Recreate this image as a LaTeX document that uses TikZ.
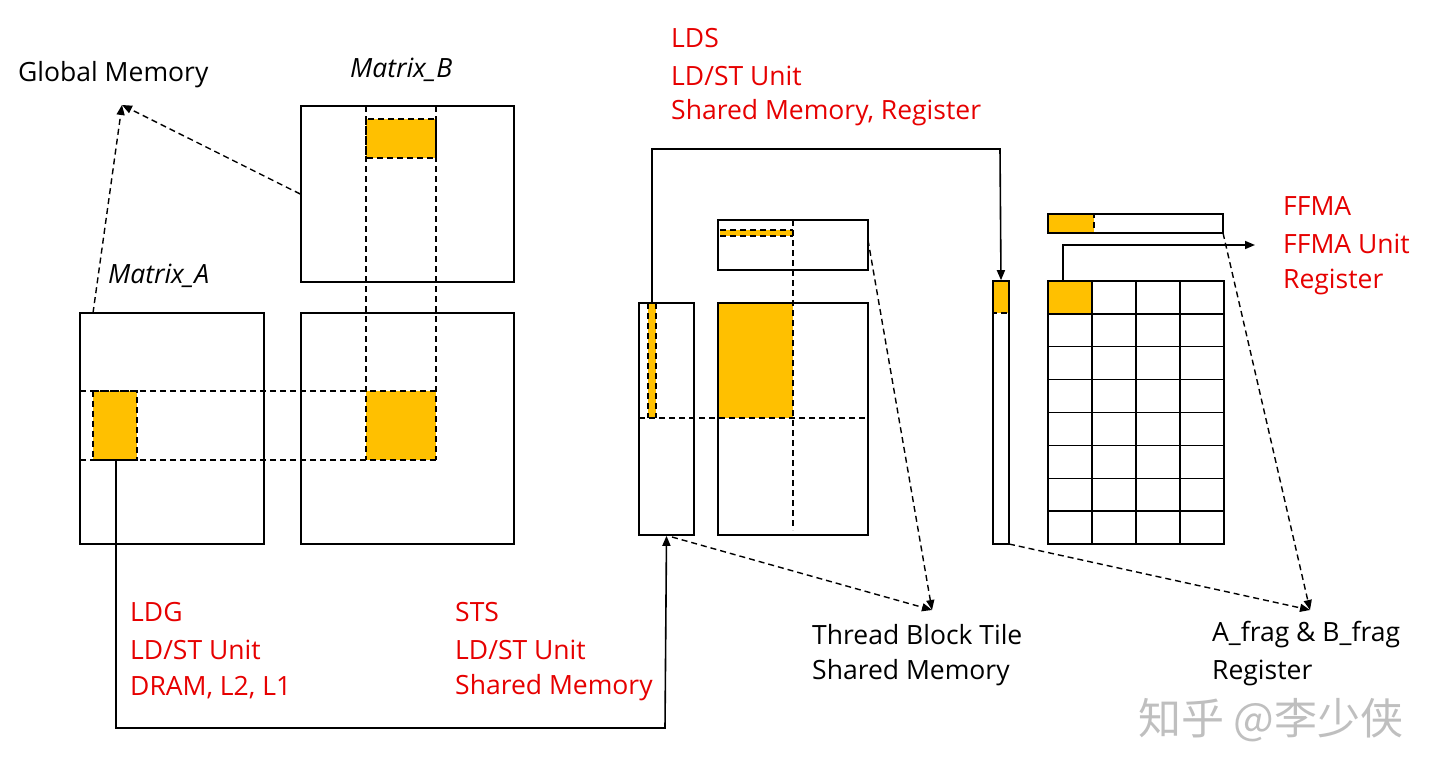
\documentclass[tikz,border=0pt]{standalone}
\usepackage{fontspec}
\setmainfont{Open Sans}
\newfontfamily\cjk{Noto Sans CJK SC}
\usetikzlibrary{arrows.meta}
\definecolor{tileorange}{RGB}{255,192,0}
\definecolor{labelred}{RGB}{230,0,0}
\tikzset{
  box/.style={draw, line width=1.6pt},
  guide/.style={line width=1.4pt, dash pattern=on 6pt off 4pt},
  flow/.style={line width=1.6pt, -{Triangle[length=10pt,width=8pt]}},
  hint/.style={guide, -{Triangle[length=10pt,width=8pt]}},
  lbl/.style={anchor=west, font=\fontsize{26.5}{30}\selectfont, inner sep=0pt},
  red lbl/.style={lbl, text=labelred}
}
\begin{document}
\begin{tikzpicture}[x=1pt, y=-1pt]
  \useasboundingbox (0,0) rectangle (1443,780);
  % global memory
  \fill[tileorange] (366,119) rectangle (436,158);
  \fill[tileorange] (93,391) rectangle (137,460);
  \fill[tileorange] (366,391) rectangle (436,460);
  \draw[guide] (366,119) rectangle (436,158) (93,391) rectangle (137,460);
  \draw[guide] (366,106) -- (366,460) (436,106) -- (436,460);
  \draw[guide] (80,391) -- (436,391) (80,460) -- (436,460);
  \node[box, minimum width=213pt, minimum height=176pt, inner sep=0pt] (matB) at (407.5,194) {};
  \node[box, minimum width=184pt, minimum height=231pt, inner sep=0pt] (matA) at (172,428.5) {};
  \node[box, minimum width=213pt, minimum height=231pt, inner sep=0pt] (matC) at (407.5,428.5) {};
  \node[lbl] (gm) at (18,75) {Global Memory};
  \node[lbl] (nameB) at (350,70) {\itshape Matrix\_B};
  \node[lbl] (nameA) at (108,276) {\itshape Matrix\_A};
  \coordinate (gmtip) at (122,105);
  \draw[hint] (matB.west) -- (gmtip);
  \draw[hint] (93,313) -- (gmtip);
  % shared memory
  \fill[tileorange] (648,303) rectangle (656,418);
  \fill[tileorange] (720,230) rectangle (793,236);
  \fill[tileorange] (718,303) rectangle (793,418);
  \draw[guide] (648,303) -- (648,418) (656,303) -- (656,418);
  \draw[guide] (720,230) -- (793,230) (720,236) -- (793,236);
  \draw[guide] (718,303) -- (718,418);
  \draw[guide] (639,418) -- (868,418) (793,220) -- (793,530);
  \node[box, minimum width=55pt, minimum height=232pt, inner sep=0pt] (shA) at (666.5,419) {};
  \node[box, minimum width=150pt, minimum height=50pt, inner sep=0pt] (shB) at (793,245) {};
  \node[box, minimum width=150pt, minimum height=232pt, inner sep=0pt] (shC) at (793,419) {};
  % registers
  \fill[tileorange] (993,281) rectangle (1009,313);
  \fill[tileorange] (1048,214) rectangle (1094,233);
  \fill[tileorange] (1048,281) rectangle (1092,314);
  \draw[guide] (993,281) rectangle (1009,313) (1048,214) rectangle (1094,233);
  \node[box, minimum width=16pt, minimum height=263pt, inner sep=0pt] (regA) at (1001,412.5) {};
  \node[box, minimum width=175pt, minimum height=19pt, inner sep=0pt] (regB) at (1135.5,223.5) {};
  \node[box, minimum width=176pt, minimum height=263pt, inner sep=0pt] (regC) at (1136,412.5) {};
  \foreach \i in {1,2,3}
    \draw[line width=1.4pt] (1048+44*\i,281) -- (1048+44*\i,544);
  \foreach \j in {1,...,7}
    \draw[line width=1.4pt] (1048,281+32.875*\j) -- (1224,281+32.875*\j);
  % transfers
  \coordinate (ffmatip) at (1255,245);
  \draw[flow] (116,460) |- (665,728) -- (shA.south);
  \draw[flow] (652,303) |- (1000,149) -- (regA.north);
  \draw[flow] (1063,281) |- (ffmatip);
  \node[red lbl] at (130,612) {LDG};
  \node[red lbl] at (130,650) {LD/ST Unit};
  \node[red lbl] at (130,688) {DRAM, L2, L1};
  \node[red lbl] at (455,612) {STS};
  \node[red lbl] at (455,650) {LD/ST Unit};
  \node[red lbl] at (455,688) {Shared Memory};
  \node[red lbl] at (671,38) {LDS};
  \node[red lbl] at (671,76) {LD/ST Unit};
  \node[red lbl] at (671,113) {Shared Memory, Register};
  \node[red lbl] at (1283,206) {FFMA};
  \node[red lbl] at (1283,244) {FFMA Unit};
  \node[red lbl] at (1283,282) {Register};
  % tile captions
  \coordinate (tbtip) at (932,610);
  \coordinate (fragtip) at (1310,610);
  \draw[hint] (868,240) -- (tbtip);
  \draw[hint] (672,537) -- (tbtip);
  \draw[hint] (1223,233) -- (fragtip);
  \draw[hint] (1009,544) -- (fragtip);
  \node[lbl] at (812,635) {Thread Block Tile};
  \node[lbl] at (812,673) {Shared Memory};
  \node[lbl] at (1212,635) {A\_frag \& B\_frag};
  \node[lbl] at (1212,673) {Register};
  \node[lbl, text=gray!50, font=\cjk\fontsize{43}{47}\selectfont] at (1138,720) {知乎 @李少侠};
\end{tikzpicture}
\end{document}
